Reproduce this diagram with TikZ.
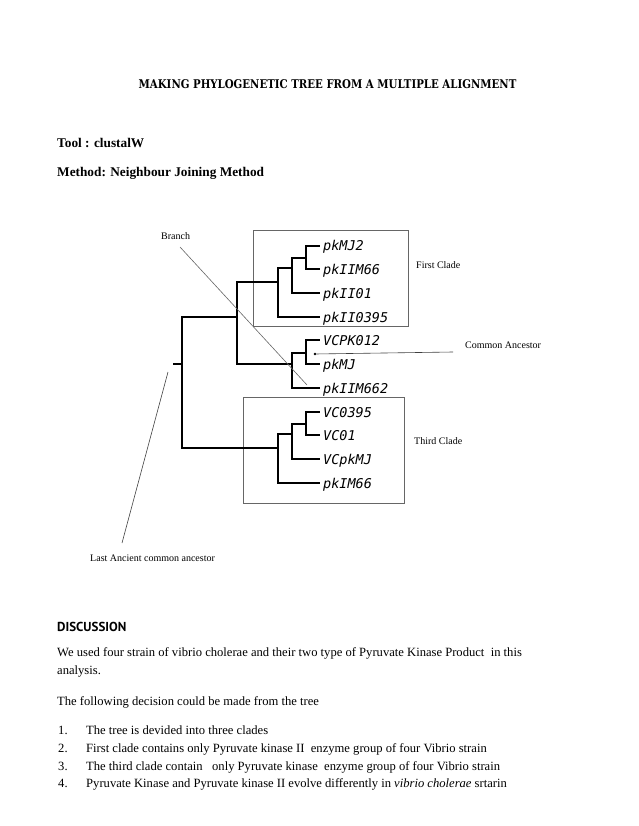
\documentclass[tikz,border=0pt]{standalone}
\usepackage{fontspec}
\setmainfont{Liberation Serif}
\newfontfamily\leaffont{DejaVu Sans Mono Oblique}
\newfontfamily\titlefont[FakeStretch=0.85]{DejaVu Serif Bold}
\newfontfamily\headfont{PT Sans Bold}
\usetikzlibrary{positioning}

\tikzset{
	edge/.style={line width=1.6pt},
	leaf/.style={anchor=west, inner sep=3pt, text height=10pt, text depth=0pt,
		font=\leaffont\fontsize{13.5}{14}\selectfont},
	note/.style={anchor=base west, inner sep=0pt, font=\fontsize{10}{12}\selectfont},
	body/.style={anchor=base west, inner sep=0pt, font=\fontsize{12.6}{14}\selectfont},
	bodybold/.style={body, font=\bfseries\fontsize{13.3}{15}\selectfont},
	cladebox/.style={draw=black!60, line width=0.8pt},
	pointer/.style={draw=black!60, line width=0.6pt}
}

\begin{document}
\begin{tikzpicture}[x=1pt, y=-1pt]
			\useasboundingbox (0,0) rectangle (638,826);
			% heading
			\node[anchor=base, inner sep=0pt, font=\titlefont\fontsize{12}{14}\selectfont] (title) at (327.5,89) {MAKING PHYLOGENETIC TREE FROM A MULTIPLE ALIGNMENT};
			\node[bodybold] (tool) at (57,148) {Tool : clustalW};
			\node[bodybold] (method) at (57,177) {Method: Neighbour Joining Method};
			% clade boxes
			\draw[cladebox] (253,230) rectangle (408,326);
			\draw[cladebox] (243,397) rectangle (404,503);
			% leaves
			\foreach \name/\y in {pkMJ2/246, pkIIM66/269, pkII01/293, pkII0395/317, VCPK012/340, pkMJ/364, pkIIM662/388, VC0395/412, VC01/435, VCpkMJ/459, pkIM66/483}{
				\node[leaf] (\name) at (320,\y) {\name};
			}
			% inner nodes
			\coordinate (stub) at (173,364);
			\coordinate (R) at (182,364);
			\coordinate (A) at (237,317);
			\coordinate (T) at (278,448);
			\coordinate (c1) at (278,282);
			\coordinate (c1a) at (292,268);
			\coordinate (c1b) at (306,258);
			\coordinate (m) at (292,364);
			\coordinate (m1) at (306,353);
			\coordinate (T1) at (292,434);
			\coordinate (T2) at (306,424);
			\draw[edge] (stub) -- (R);
			\foreach \p/\c in {R/A, R/T, A/c1, A/m, c1/c1a, c1/pkII0395, c1a/c1b, c1a/pkII01, c1b/pkMJ2, c1b/pkIIM66,
				m/m1, m/pkIIM662, m1/VCPK012, m1/pkMJ, T/T1, T/pkIM66, T1/T2, T1/VCpkMJ, T2/VC0395, T2/VC01}{
				\draw[edge] (\p) |- (\c);
			}
			% labels and pointers
			\node[note] (branch) at (161,240) {Branch};
			\coordinate (brFrom) at (180,247);
			\coordinate (brTo) at (307,385);
			\draw[pointer] (brFrom) -- (brTo);
			\node[note] (first) at (416,268) {First Clade};
			\node[note] (third) at (414,444) {Third Clade};
			\node[circle, fill, inner sep=0.9pt] (cadot) at (315,354) {};
			\node[note] (ancestor) at (465,348) {Common Ancestor};
			\coordinate (caTo) at (453,352);
			\draw[pointer, draw=black!75] (cadot) -- (caTo);
			\node[note] (last) at (90,561) {Last Ancient common ancestor};
			\coordinate (lastFrom) at (122,543);
			\coordinate (lastTo) at (168,372);
			\draw[pointer, draw=black!75] (lastFrom) -- (lastTo);
			% discussion
			\node[body, font=\headfont\fontsize{13}{15}\selectfont] (disc) at (57,631) {DISCUSSION};
			\node[body] (p1) at (57,656) {We used four strain of vibrio cholerae and their two type of Pyruvate Kinase Product\ \ in this};
			\node[body] (p2) at (57,674) {analysis.};
			\node[body] (p3) at (57,705) {The following decision could be made from the tree};
			\foreach \n/\y/\txt in {1/734/{The tree is devided into three clades},
				2/752/{First clade contains only Pyruvate kinase II\ \ enzyme group of four Vibrio strain},
				3/770/{The third clade contain\ \ \ only Pyruvate kinase\ \ enzyme group of four Vibrio strain},
				4/787/{Pyruvate Kinase and Pyruvate kinase II evolve differently in \textit{vibrio cholerae} srtarin}}{
				\node[body] (num\n) at (58,\y) {\n.};
				\node[body] (item\n) at (86,\y) {\txt};
			}
		\end{tikzpicture}
\end{document}
